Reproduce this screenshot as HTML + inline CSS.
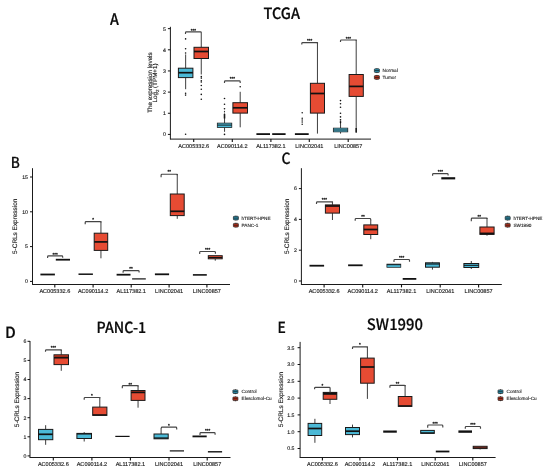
<!DOCTYPE html>
<html lang="en">
<head>
<meta charset="utf-8">
<title>Figure</title>
<style>
html,body{margin:0;padding:0;background:#fff;}
body{width:550px;height:473px;overflow:hidden;}
svg{display:block;}
.t{font-family:"Liberation Sans",Arial,Helvetica,sans-serif;text-rendering:geometricPrecision;stroke:#1a1a1a;stroke-width:0.13px;}
.s{stroke-width:0.3px;}
.l{stroke-width:0.12px;stroke:#222;}
.h{font-family:"Noto Sans CJK SC","Liberation Sans",sans-serif;text-rendering:geometricPrecision;stroke:#0a0a0a;stroke-width:0.2px;}
</style>
</head>
<body>
<svg width="550" height="473" viewBox="0 0 550 473">
<rect x="0" y="0" width="550" height="473" fill="#ffffff"/>
<text class="h" transform="translate(109.9 24.6) scale(0.9 1)" font-size="15.8" text-anchor="start" font-weight="500" fill="#0a0a0a">A</text>
<text class="h" transform="translate(10.7 167.9) scale(0.9 1)" font-size="15.1" text-anchor="start" font-weight="500" fill="#0a0a0a">B</text>
<text class="h" transform="translate(281.5 163.7) scale(0.9 1)" font-size="15.4" text-anchor="start" font-weight="500" fill="#0a0a0a">C</text>
<text class="h" transform="translate(4.9 338) scale(1.0 1)" font-size="15.4" text-anchor="start" font-weight="500" fill="#0a0a0a">D</text>
<text class="h" transform="translate(277.6 332.8) scale(0.9 1)" font-size="15.4" text-anchor="start" font-weight="500" fill="#0a0a0a">E</text>
<text class="h" transform="translate(281.7 18.5) scale(0.93 1)" font-size="15.6" text-anchor="middle" font-weight="500" fill="#0a0a0a">TCGA</text>
<text class="h" transform="translate(121.3 332.5) scale(0.935 1)" font-size="15.2" text-anchor="middle" font-weight="500" fill="#0a0a0a">PANC-1</text>
<text class="h" transform="translate(394.9 329.9) scale(0.945 1)" font-size="15.7" text-anchor="middle" font-weight="500" fill="#0a0a0a">SW1990</text>
<line x1="170.4" y1="26.8" x2="170.4" y2="139.4" stroke="#1a1a1a" stroke-width="1" stroke-linecap="butt"/>
<line x1="170.1" y1="139.1" x2="371" y2="139.1" stroke="#1a1a1a" stroke-width="1" stroke-linecap="butt"/>
<line x1="167.9" y1="134.4" x2="170.4" y2="134.4" stroke="#111" stroke-width="1" stroke-linecap="butt"/>
<text class="t" x="165.9" y="136.27" font-size="5.2" text-anchor="end" fill="#1a1a1a" >0</text>
<line x1="167.9" y1="113.25" x2="170.4" y2="113.25" stroke="#111" stroke-width="1" stroke-linecap="butt"/>
<text class="t" x="165.9" y="115.12" font-size="5.2" text-anchor="end" fill="#1a1a1a" >1</text>
<line x1="167.9" y1="92.1" x2="170.4" y2="92.1" stroke="#111" stroke-width="1" stroke-linecap="butt"/>
<text class="t" x="165.9" y="93.97" font-size="5.2" text-anchor="end" fill="#1a1a1a" >2</text>
<line x1="167.9" y1="70.95" x2="170.4" y2="70.95" stroke="#111" stroke-width="1" stroke-linecap="butt"/>
<text class="t" x="165.9" y="72.82" font-size="5.2" text-anchor="end" fill="#1a1a1a" >3</text>
<line x1="167.9" y1="49.8" x2="170.4" y2="49.8" stroke="#111" stroke-width="1" stroke-linecap="butt"/>
<text class="t" x="165.9" y="51.67" font-size="5.2" text-anchor="end" fill="#1a1a1a" >4</text>
<line x1="167.9" y1="28.65" x2="170.4" y2="28.65" stroke="#111" stroke-width="1" stroke-linecap="butt"/>
<text class="t" x="165.9" y="30.52" font-size="5.2" text-anchor="end" fill="#1a1a1a" >5</text>
<line x1="193.7" y1="139.1" x2="193.7" y2="142" stroke="#111" stroke-width="1.1" stroke-linecap="butt"/>
<text class="t" x="193.7" y="147.5" font-size="5.55" text-anchor="middle" fill="#1a1a1a" >AC005332.6</text>
<line x1="232.3" y1="139.1" x2="232.3" y2="142" stroke="#111" stroke-width="1.1" stroke-linecap="butt"/>
<text class="t" x="232.3" y="147.5" font-size="5.55" text-anchor="middle" fill="#1a1a1a" >AC090114.2</text>
<line x1="270.9" y1="139.1" x2="270.9" y2="142" stroke="#111" stroke-width="1.1" stroke-linecap="butt"/>
<text class="t" x="270.9" y="147.5" font-size="5.55" text-anchor="middle" fill="#1a1a1a" >AL117382.1</text>
<line x1="309.3" y1="139.1" x2="309.3" y2="142" stroke="#111" stroke-width="1.1" stroke-linecap="butt"/>
<text class="t" x="309.3" y="147.5" font-size="5.55" text-anchor="middle" fill="#1a1a1a" >LINC02041</text>
<line x1="348.2" y1="139.1" x2="348.2" y2="142" stroke="#111" stroke-width="1.1" stroke-linecap="butt"/>
<text class="t" x="348.2" y="147.5" font-size="5.55" text-anchor="middle" fill="#1a1a1a" >LINC00857</text>
<text class="t" transform="translate(151.9 82.6) rotate(-90)" font-size="6.25" text-anchor="middle" fill="#1a1a1a" >The expression levels</text>
<text class="t" transform="translate(157.4 83.0) rotate(-90)" font-size="6.25" text-anchor="middle" fill="#1a1a1a">Log<tspan font-size="4.4" dy="1.2">2</tspan><tspan dy="-1.2"> (TPM+1)</tspan></text>
<line x1="185.65" y1="54.4" x2="185.65" y2="68.2" stroke="#333" stroke-width="0.95" stroke-linecap="butt"/>
<line x1="185.65" y1="77.6" x2="185.65" y2="89.2" stroke="#333" stroke-width="0.95" stroke-linecap="butt"/>
<rect x="178.4" y="68.2" width="14.5" height="9.4" fill="#4bb9d6" stroke="#1a1a1a" stroke-width="1"/>
<line x1="178.4" y1="72.7" x2="192.9" y2="72.7" stroke="#111" stroke-width="1.7" stroke-linecap="butt"/>
<circle cx="185.6" cy="38.9" r="0.8" fill="#111"/>
<circle cx="185.6" cy="48.8" r="0.8" fill="#111"/>
<circle cx="185.6" cy="53" r="0.8" fill="#111"/>
<circle cx="185.6" cy="93.3" r="0.8" fill="#111"/>
<circle cx="185.6" cy="95.1" r="0.8" fill="#111"/>
<circle cx="185.6" cy="134.3" r="0.8" fill="#111"/>
<line x1="201.25" y1="33.6" x2="201.25" y2="47.3" stroke="#333" stroke-width="0.95" stroke-linecap="butt"/>
<line x1="201.25" y1="58.5" x2="201.25" y2="74.5" stroke="#333" stroke-width="0.95" stroke-linecap="butt"/>
<rect x="194" y="47.3" width="14.5" height="11.2" fill="#e64b33" stroke="#1a1a1a" stroke-width="1"/>
<line x1="194" y1="51.5" x2="208.5" y2="51.5" stroke="#111" stroke-width="1.7" stroke-linecap="butt"/>
<circle cx="201.3" cy="76.6" r="0.8" fill="#111"/>
<circle cx="201.3" cy="78.1" r="0.8" fill="#111"/>
<circle cx="201.3" cy="80.7" r="0.8" fill="#111"/>
<circle cx="201.3" cy="82" r="0.8" fill="#111"/>
<circle cx="201.3" cy="85.5" r="0.8" fill="#111"/>
<circle cx="201.3" cy="89.2" r="0.8" fill="#111"/>
<circle cx="201.3" cy="94.4" r="0.8" fill="#111"/>
<circle cx="201.3" cy="99.3" r="0.8" fill="#111"/>
<path d="M185.5 33.95V32.75Q185.5 31.85 186.4 31.85H200.4Q201.3 31.85 201.3 32.75V33.8" fill="none" stroke="#444" stroke-width="1.15"/>
<text class="t s" x="193.4" y="31.5" font-size="4.5" text-anchor="middle" fill="#1a1a1a" >***</text>
<line x1="224.55" y1="116.5" x2="224.55" y2="123.1" stroke="#333" stroke-width="0.95" stroke-linecap="butt"/>
<line x1="224.55" y1="127.6" x2="224.55" y2="131.8" stroke="#333" stroke-width="0.95" stroke-linecap="butt"/>
<rect x="217.3" y="123.1" width="14.5" height="4.5" fill="#4bb9d6" stroke="#1a1a1a" stroke-width="0.75"/>
<line x1="217.3" y1="125.1" x2="231.8" y2="125.1" stroke="#111" stroke-width="0.9" stroke-linecap="butt"/>
<circle cx="224.5" cy="98.5" r="0.8" fill="#111"/>
<circle cx="224.5" cy="104.3" r="0.8" fill="#111"/>
<circle cx="224.5" cy="108.7" r="0.8" fill="#111"/>
<circle cx="224.5" cy="134.4" r="0.8" fill="#111"/>
<circle cx="224.5" cy="111.3" r="0.6" fill="#111"/>
<circle cx="224.5" cy="113" r="0.6" fill="#111"/>
<line x1="224.5" y1="114" x2="224.5" y2="118.5" stroke="#1a1a1a" stroke-width="1.6" stroke-linecap="butt"/>
<line x1="240.2" y1="91.8" x2="240.2" y2="102.7" stroke="#333" stroke-width="0.95" stroke-linecap="butt"/>
<line x1="240.2" y1="113.1" x2="240.2" y2="127.3" stroke="#333" stroke-width="0.95" stroke-linecap="butt"/>
<rect x="232.9" y="102.7" width="14.6" height="10.4" fill="#e64b33" stroke="#1a1a1a" stroke-width="1"/>
<line x1="232.9" y1="107.8" x2="247.5" y2="107.8" stroke="#111" stroke-width="1.7" stroke-linecap="butt"/>
<circle cx="240.2" cy="86.7" r="0.8" fill="#111"/>
<path d="M224.5 83.05V81.75Q224.5 80.85 225.4 80.85H239.3Q240.2 80.85 240.2 81.75V82.9" fill="none" stroke="#444" stroke-width="1.15"/>
<text class="t s" x="232.35" y="80.3" font-size="4.5" text-anchor="middle" fill="#1a1a1a" >***</text>
<line x1="256.4" y1="134.1" x2="270" y2="134.1" stroke="#111" stroke-width="1.8" stroke-linecap="butt"/>
<line x1="272.2" y1="134.1" x2="285.6" y2="134.1" stroke="#111" stroke-width="1.8" stroke-linecap="butt"/>
<line x1="294.9" y1="134.1" x2="308.7" y2="134.1" stroke="#111" stroke-width="1.8" stroke-linecap="butt"/>
<circle cx="302.2" cy="112.8" r="0.75" fill="#111"/>
<circle cx="302.2" cy="118.3" r="0.75" fill="#111"/>
<circle cx="302.2" cy="120.1" r="0.75" fill="#111"/>
<circle cx="302.2" cy="122" r="0.75" fill="#111"/>
<circle cx="302.2" cy="124.2" r="0.75" fill="#111"/>
<line x1="317.45" y1="42.2" x2="317.45" y2="83.3" stroke="#333" stroke-width="0.95" stroke-linecap="butt"/>
<line x1="317.45" y1="113.1" x2="317.45" y2="133.6" stroke="#333" stroke-width="0.95" stroke-linecap="butt"/>
<rect x="310.4" y="83.3" width="14.1" height="29.8" fill="#e64b33" stroke="#1a1a1a" stroke-width="1"/>
<line x1="310.4" y1="93.5" x2="324.5" y2="93.5" stroke="#111" stroke-width="1.7" stroke-linecap="butt"/>
<path d="M301.8 44.55V43.45Q301.8 42.55 302.7 42.55H316.6Q317.5 42.55 317.5 43.45V42.4" fill="none" stroke="#444" stroke-width="1.15"/>
<text class="t s" x="309.65" y="42.1" font-size="4.5" text-anchor="middle" fill="#1a1a1a" >***</text>
<line x1="340.55" y1="123" x2="340.55" y2="128.1" stroke="#333" stroke-width="0.95" stroke-linecap="butt"/>
<line x1="340.55" y1="131.9" x2="340.55" y2="133.6" stroke="#333" stroke-width="0.95" stroke-linecap="butt"/>
<rect x="333.3" y="128.1" width="14.5" height="3.8" fill="#4bb9d6" stroke="#1a1a1a" stroke-width="0.7"/>
<line x1="333.3" y1="130" x2="347.8" y2="130" stroke="#111" stroke-width="0.8" stroke-linecap="butt"/>
<circle cx="340.5" cy="100.6" r="0.8" fill="#111"/>
<circle cx="340.5" cy="103.8" r="0.8" fill="#111"/>
<circle cx="340.5" cy="107.2" r="0.8" fill="#111"/>
<circle cx="340.5" cy="113.3" r="0.8" fill="#111"/>
<circle cx="340.5" cy="116.9" r="0.8" fill="#111"/>
<circle cx="340.5" cy="119.8" r="0.8" fill="#111"/>
<circle cx="340.5" cy="121.2" r="0.8" fill="#111"/>
<circle cx="340.5" cy="122.6" r="0.8" fill="#111"/>
<line x1="356.2" y1="39.6" x2="356.2" y2="74.5" stroke="#333" stroke-width="0.95" stroke-linecap="butt"/>
<line x1="356.2" y1="96.4" x2="356.2" y2="132.7" stroke="#333" stroke-width="0.95" stroke-linecap="butt"/>
<rect x="349.1" y="74.5" width="14.2" height="21.9" fill="#e64b33" stroke="#1a1a1a" stroke-width="1"/>
<line x1="349.1" y1="86.4" x2="363.3" y2="86.4" stroke="#111" stroke-width="1.7" stroke-linecap="butt"/>
<line x1="356.2" y1="128" x2="356.2" y2="132.6" stroke="#1a1a1a" stroke-width="1.5" stroke-linecap="butt"/>
<path d="M340.5 41.95V40.85Q340.5 39.95 341.4 39.95H355.3Q356.2 39.95 356.2 40.85V39.8" fill="none" stroke="#444" stroke-width="1.15"/>
<text class="t s" x="348.35" y="39.7" font-size="4.5" text-anchor="middle" fill="#1a1a1a" >***</text>
<line x1="376.9" y1="68.1" x2="376.9" y2="73.1" stroke="#333" stroke-width="0.8" stroke-linecap="butt"/>
<rect x="374.4" y="68.8" width="5" height="3.6" rx="0.7" fill="#3093b0" stroke="#1c1c1c" stroke-width="0.7"/>
<line x1="374.8" y1="70.6" x2="379" y2="70.6" stroke="#12323b" stroke-width="0.9" stroke-linecap="butt"/>
<text class="t l" x="382.6" y="72.29" font-size="4.7" text-anchor="start" fill="#222" >Normal</text>
<line x1="376.9" y1="74.9" x2="376.9" y2="79.9" stroke="#333" stroke-width="0.8" stroke-linecap="butt"/>
<rect x="374.4" y="75.6" width="5" height="3.6" rx="0.7" fill="#bd3822" stroke="#1c1c1c" stroke-width="0.7"/>
<line x1="374.8" y1="77.4" x2="379" y2="77.4" stroke="#43130c" stroke-width="0.9" stroke-linecap="butt"/>
<text class="t l" x="382.6" y="79.09" font-size="4.7" text-anchor="start" fill="#222" >Tumor</text>
<line x1="32.5" y1="168.2" x2="32.5" y2="284.8" stroke="#1a1a1a" stroke-width="1" stroke-linecap="butt"/>
<line x1="32.2" y1="284.5" x2="230" y2="284.5" stroke="#1a1a1a" stroke-width="1" stroke-linecap="butt"/>
<line x1="30" y1="281.4" x2="32.5" y2="281.4" stroke="#111" stroke-width="1" stroke-linecap="butt"/>
<text class="t" x="28" y="283.27" font-size="5.2" text-anchor="end" fill="#1a1a1a" >0</text>
<line x1="30" y1="246.6" x2="32.5" y2="246.6" stroke="#111" stroke-width="1" stroke-linecap="butt"/>
<text class="t" x="28" y="248.47" font-size="5.2" text-anchor="end" fill="#1a1a1a" >5</text>
<line x1="30" y1="211.8" x2="32.5" y2="211.8" stroke="#111" stroke-width="1" stroke-linecap="butt"/>
<text class="t" x="28" y="213.67" font-size="5.2" text-anchor="end" fill="#1a1a1a" >10</text>
<line x1="30" y1="177" x2="32.5" y2="177" stroke="#111" stroke-width="1" stroke-linecap="butt"/>
<text class="t" x="28" y="178.87" font-size="5.2" text-anchor="end" fill="#1a1a1a" >15</text>
<line x1="54.8" y1="284.5" x2="54.8" y2="287.4" stroke="#111" stroke-width="1.1" stroke-linecap="butt"/>
<text class="t" x="54.8" y="293.4" font-size="5.55" text-anchor="middle" fill="#1a1a1a" >AC005332.6</text>
<line x1="93.1" y1="284.5" x2="93.1" y2="287.4" stroke="#111" stroke-width="1.1" stroke-linecap="butt"/>
<text class="t" x="93.1" y="293.4" font-size="5.55" text-anchor="middle" fill="#1a1a1a" >AC090114.2</text>
<line x1="131.2" y1="284.5" x2="131.2" y2="287.4" stroke="#111" stroke-width="1.1" stroke-linecap="butt"/>
<text class="t" x="131.2" y="293.4" font-size="5.55" text-anchor="middle" fill="#1a1a1a" >AL117382.1</text>
<line x1="169.1" y1="284.5" x2="169.1" y2="287.4" stroke="#111" stroke-width="1.1" stroke-linecap="butt"/>
<text class="t" x="169.1" y="293.4" font-size="5.55" text-anchor="middle" fill="#1a1a1a" >LINC02041</text>
<line x1="206.9" y1="284.5" x2="206.9" y2="287.4" stroke="#111" stroke-width="1.1" stroke-linecap="butt"/>
<text class="t" x="206.9" y="293.4" font-size="5.55" text-anchor="middle" fill="#1a1a1a" >LINC00857</text>
<text class="t" transform="translate(17 226.3) rotate(-90)" font-size="6.43" text-anchor="middle" fill="#1a1a1a" >5-CRLs Expression</text>
<line x1="40.4" y1="274.5" x2="54.9" y2="274.5" stroke="#111" stroke-width="1.8" stroke-linecap="butt"/>
<line x1="55.8" y1="259.7" x2="70" y2="259.7" stroke="#111" stroke-width="1.8" stroke-linecap="butt"/>
<path d="M47.6 257.95V256.75Q47.6 255.85 48.5 255.85H61.8Q62.7 255.85 62.7 256.75V257.8" fill="none" stroke="#444" stroke-width="1.15"/>
<text class="t s" x="55.15" y="255.6" font-size="4.5" text-anchor="middle" fill="#1a1a1a" >***</text>
<line x1="78.5" y1="274.2" x2="92.9" y2="274.2" stroke="#111" stroke-width="1.5" stroke-linecap="butt"/>
<line x1="100.95" y1="221.3" x2="100.95" y2="233.2" stroke="#333" stroke-width="0.95" stroke-linecap="butt"/>
<line x1="100.95" y1="250.4" x2="100.95" y2="258.3" stroke="#333" stroke-width="0.95" stroke-linecap="butt"/>
<rect x="94.2" y="233.2" width="13.5" height="17.2" fill="#e64b33" stroke="#1a1a1a" stroke-width="1"/>
<line x1="94.2" y1="241.9" x2="107.7" y2="241.9" stroke="#111" stroke-width="1.7" stroke-linecap="butt"/>
<path d="M85.2 224.35V222.55Q85.2 221.65 86.1 221.65H100.05Q100.95 221.65 100.95 222.55V221.5" fill="none" stroke="#444" stroke-width="1.15"/>
<text class="t s" x="93.08" y="221.1" font-size="4.5" text-anchor="middle" fill="#1a1a1a" >*</text>
<line x1="116.6" y1="274.7" x2="130.5" y2="274.7" stroke="#111" stroke-width="1.8" stroke-linecap="butt"/>
<line x1="132.1" y1="278.9" x2="145.8" y2="278.9" stroke="#111" stroke-width="1.2" stroke-linecap="butt"/>
<path d="M123.1 272.75V271.45Q123.1 270.55 124 270.55H138.2Q139.1 270.55 139.1 271.45V272.6" fill="none" stroke="#444" stroke-width="1.15"/>
<text class="t s" x="131.1" y="269.5" font-size="4.5" text-anchor="middle" fill="#1a1a1a" >**</text>
<line x1="154.9" y1="274.3" x2="169.1" y2="274.3" stroke="#111" stroke-width="1.8" stroke-linecap="butt"/>
<line x1="177.25" y1="173.9" x2="177.25" y2="194" stroke="#333" stroke-width="0.95" stroke-linecap="butt"/>
<line x1="177.25" y1="215.6" x2="177.25" y2="218.8" stroke="#333" stroke-width="0.95" stroke-linecap="butt"/>
<rect x="170.3" y="194" width="13.9" height="21.6" fill="#e64b33" stroke="#1a1a1a" stroke-width="1"/>
<line x1="170.3" y1="211.3" x2="184.2" y2="211.3" stroke="#111" stroke-width="1.7" stroke-linecap="butt"/>
<path d="M161.1 177.35V175.15Q161.1 174.25 162 174.25H176.35Q177.25 174.25 177.25 175.15V174.1" fill="none" stroke="#444" stroke-width="1.15"/>
<text class="t s" x="169.18" y="173" font-size="4.5" text-anchor="middle" fill="#1a1a1a" >**</text>
<line x1="192.9" y1="274.9" x2="206.8" y2="274.9" stroke="#111" stroke-width="1.6" stroke-linecap="butt"/>
<line x1="215.25" y1="258.8" x2="215.25" y2="260.7" stroke="#333" stroke-width="0.95" stroke-linecap="butt"/>
<rect x="208.3" y="255.7" width="13.9" height="3.1" fill="#e64b33" stroke="#1a1a1a" stroke-width="1"/>
<line x1="208.3" y1="257.5" x2="222.2" y2="257.5" stroke="#111" stroke-width="1" stroke-linecap="butt"/>
<path d="M199.7 253.95V252.35Q199.7 251.45 200.6 251.45H214.5Q215.4 251.45 215.4 252.35V253.8" fill="none" stroke="#444" stroke-width="1.15"/>
<text class="t s" x="207.55" y="250.8" font-size="4.5" text-anchor="middle" fill="#1a1a1a" >***</text>
<line x1="235.9" y1="215.6" x2="235.9" y2="220.6" stroke="#333" stroke-width="0.8" stroke-linecap="butt"/>
<rect x="233.4" y="216.3" width="5" height="3.6" rx="0.7" fill="#3093b0" stroke="#1c1c1c" stroke-width="0.7"/>
<line x1="233.8" y1="218.1" x2="238" y2="218.1" stroke="#12323b" stroke-width="0.9" stroke-linecap="butt"/>
<text class="t l" x="241.5" y="219.79" font-size="4.7" text-anchor="start" fill="#222" >hTERT-HPNE</text>
<line x1="235.9" y1="222.7" x2="235.9" y2="227.7" stroke="#333" stroke-width="0.8" stroke-linecap="butt"/>
<rect x="233.4" y="223.4" width="5" height="3.6" rx="0.7" fill="#bd3822" stroke="#1c1c1c" stroke-width="0.7"/>
<line x1="233.8" y1="225.2" x2="238" y2="225.2" stroke="#43130c" stroke-width="0.9" stroke-linecap="butt"/>
<text class="t l" x="241.5" y="226.89" font-size="4.7" text-anchor="start" fill="#222" >PANC-1</text>
<line x1="301.4" y1="168.2" x2="301.4" y2="284.8" stroke="#1a1a1a" stroke-width="1" stroke-linecap="butt"/>
<line x1="301.1" y1="284.5" x2="501.8" y2="284.5" stroke="#1a1a1a" stroke-width="1" stroke-linecap="butt"/>
<line x1="298.9" y1="281" x2="301.4" y2="281" stroke="#111" stroke-width="1" stroke-linecap="butt"/>
<text class="t" x="296.9" y="282.87" font-size="5.2" text-anchor="end" fill="#1a1a1a" >0</text>
<line x1="298.9" y1="250.2" x2="301.4" y2="250.2" stroke="#111" stroke-width="1" stroke-linecap="butt"/>
<text class="t" x="296.9" y="252.07" font-size="5.2" text-anchor="end" fill="#1a1a1a" >2</text>
<line x1="298.9" y1="219.4" x2="301.4" y2="219.4" stroke="#111" stroke-width="1" stroke-linecap="butt"/>
<text class="t" x="296.9" y="221.27" font-size="5.2" text-anchor="end" fill="#1a1a1a" >4</text>
<line x1="298.9" y1="188.6" x2="301.4" y2="188.6" stroke="#111" stroke-width="1" stroke-linecap="butt"/>
<text class="t" x="296.9" y="190.47" font-size="5.2" text-anchor="end" fill="#1a1a1a" >6</text>
<line x1="324.1" y1="284.5" x2="324.1" y2="287.4" stroke="#111" stroke-width="1.1" stroke-linecap="butt"/>
<text class="t" x="324.1" y="293.4" font-size="5.55" text-anchor="middle" fill="#1a1a1a" >AC005332.6</text>
<line x1="362.7" y1="284.5" x2="362.7" y2="287.4" stroke="#111" stroke-width="1.1" stroke-linecap="butt"/>
<text class="t" x="362.7" y="293.4" font-size="5.55" text-anchor="middle" fill="#1a1a1a" >AC090114.2</text>
<line x1="401.5" y1="284.5" x2="401.5" y2="287.4" stroke="#111" stroke-width="1.1" stroke-linecap="butt"/>
<text class="t" x="401.5" y="293.4" font-size="5.55" text-anchor="middle" fill="#1a1a1a" >AL117382.1</text>
<line x1="440.2" y1="284.5" x2="440.2" y2="287.4" stroke="#111" stroke-width="1.1" stroke-linecap="butt"/>
<text class="t" x="440.2" y="293.4" font-size="5.55" text-anchor="middle" fill="#1a1a1a" >LINC02041</text>
<line x1="478.6" y1="284.5" x2="478.6" y2="287.4" stroke="#111" stroke-width="1.1" stroke-linecap="butt"/>
<text class="t" x="478.6" y="293.4" font-size="5.55" text-anchor="middle" fill="#1a1a1a" >LINC00857</text>
<text class="t" transform="translate(289.2 226.3) rotate(-90)" font-size="6.43" text-anchor="middle" fill="#1a1a1a" >5-CRLs Expression</text>
<line x1="309.5" y1="265.7" x2="324.1" y2="265.7" stroke="#111" stroke-width="1.8" stroke-linecap="butt"/>
<line x1="332.45" y1="201.5" x2="332.45" y2="204.9" stroke="#333" stroke-width="0.95" stroke-linecap="butt"/>
<line x1="332.45" y1="213.1" x2="332.45" y2="220" stroke="#333" stroke-width="0.95" stroke-linecap="butt"/>
<rect x="325.4" y="204.9" width="14.1" height="8.2" fill="#e64b33" stroke="#1a1a1a" stroke-width="1"/>
<line x1="325.4" y1="206" x2="339.5" y2="206" stroke="#111" stroke-width="1.7" stroke-linecap="butt"/>
<path d="M316.5 203.95V202.75Q316.5 201.85 317.4 201.85H331.55Q332.45 201.85 332.45 202.75V201.7" fill="none" stroke="#444" stroke-width="1.15"/>
<text class="t s" x="324.48" y="201.3" font-size="4.5" text-anchor="middle" fill="#1a1a1a" >***</text>
<line x1="348.1" y1="265.3" x2="362.6" y2="265.3" stroke="#111" stroke-width="1.8" stroke-linecap="butt"/>
<line x1="370.75" y1="220.2" x2="370.75" y2="224.9" stroke="#333" stroke-width="0.95" stroke-linecap="butt"/>
<line x1="370.75" y1="234.5" x2="370.75" y2="239.2" stroke="#333" stroke-width="0.95" stroke-linecap="butt"/>
<rect x="363.8" y="224.9" width="13.9" height="9.6" fill="#e64b33" stroke="#1a1a1a" stroke-width="1"/>
<line x1="363.8" y1="229.5" x2="377.7" y2="229.5" stroke="#111" stroke-width="1.7" stroke-linecap="butt"/>
<path d="M355.2 220.65V219.35Q355.2 218.45 356.1 218.45H369.8Q370.7 218.45 370.7 219.35V220.5" fill="none" stroke="#444" stroke-width="1.15"/>
<text class="t s" x="362.95" y="217.9" font-size="4.5" text-anchor="middle" fill="#1a1a1a" >**</text>
<rect x="386.9" y="264.1" width="13.9" height="3.2" fill="#4bb9d6" stroke="#1a1a1a" stroke-width="0.7"/>
<line x1="386.9" y1="264.7" x2="400.8" y2="264.7" stroke="#111" stroke-width="0.9" stroke-linecap="butt"/>
<line x1="402.7" y1="278.9" x2="416.3" y2="278.9" stroke="#111" stroke-width="1.8" stroke-linecap="butt"/>
<path d="M394 261.95V260.35Q394 259.45 394.9 259.45H408.6Q409.5 259.45 409.5 260.35V261.8" fill="none" stroke="#444" stroke-width="1.15"/>
<text class="t s" x="401.75" y="258.9" font-size="4.5" text-anchor="middle" fill="#1a1a1a" >***</text>
<line x1="432.45" y1="261.9" x2="432.45" y2="262.8" stroke="#333" stroke-width="0.95" stroke-linecap="butt"/>
<line x1="432.45" y1="267.2" x2="432.45" y2="269.6" stroke="#333" stroke-width="0.95" stroke-linecap="butt"/>
<rect x="425.5" y="262.8" width="13.9" height="4.4" fill="#4bb9d6" stroke="#1a1a1a" stroke-width="1"/>
<line x1="425.5" y1="264" x2="439.4" y2="264" stroke="#111" stroke-width="1.1" stroke-linecap="butt"/>
<line x1="441.3" y1="178.3" x2="455.2" y2="178.3" stroke="#111" stroke-width="2.2" stroke-linecap="butt"/>
<path d="M432.6 175.75V174.55Q432.6 173.65 433.5 173.65H447.2Q448.1 173.65 448.1 174.55V175.6" fill="none" stroke="#444" stroke-width="1.15"/>
<text class="t s" x="440.35" y="173" font-size="4.5" text-anchor="middle" fill="#1a1a1a" >***</text>
<line x1="471.3" y1="261" x2="471.3" y2="263.5" stroke="#333" stroke-width="0.95" stroke-linecap="butt"/>
<line x1="471.3" y1="267.5" x2="471.3" y2="269" stroke="#333" stroke-width="0.95" stroke-linecap="butt"/>
<rect x="463.9" y="263.5" width="14.8" height="4" fill="#4bb9d6" stroke="#1a1a1a" stroke-width="1"/>
<line x1="463.9" y1="265.3" x2="478.7" y2="265.3" stroke="#111" stroke-width="1" stroke-linecap="butt"/>
<line x1="487" y1="217.8" x2="487" y2="227" stroke="#333" stroke-width="0.95" stroke-linecap="butt"/>
<line x1="487" y1="234.4" x2="487" y2="235.7" stroke="#333" stroke-width="0.95" stroke-linecap="butt"/>
<rect x="479.9" y="227" width="14.2" height="7.4" fill="#e64b33" stroke="#1a1a1a" stroke-width="1"/>
<line x1="479.9" y1="233.4" x2="494.1" y2="233.4" stroke="#111" stroke-width="1.7" stroke-linecap="butt"/>
<path d="M471.3 221.15V219.05Q471.3 218.15 472.2 218.15H486.1Q487 218.15 487 219.05V218" fill="none" stroke="#444" stroke-width="1.15"/>
<text class="t s" x="479.15" y="217.8" font-size="4.5" text-anchor="middle" fill="#1a1a1a" >**</text>
<line x1="507.7" y1="215.6" x2="507.7" y2="220.6" stroke="#333" stroke-width="0.8" stroke-linecap="butt"/>
<rect x="505.2" y="216.3" width="5" height="3.6" rx="0.7" fill="#3093b0" stroke="#1c1c1c" stroke-width="0.7"/>
<line x1="505.6" y1="218.1" x2="509.8" y2="218.1" stroke="#12323b" stroke-width="0.9" stroke-linecap="butt"/>
<text class="t l" x="513.4" y="219.79" font-size="4.7" text-anchor="start" fill="#222" >hTERT-HPNE</text>
<line x1="507.7" y1="222.7" x2="507.7" y2="227.7" stroke="#333" stroke-width="0.8" stroke-linecap="butt"/>
<rect x="505.2" y="223.4" width="5" height="3.6" rx="0.7" fill="#bd3822" stroke="#1c1c1c" stroke-width="0.7"/>
<line x1="505.6" y1="225.2" x2="509.8" y2="225.2" stroke="#43130c" stroke-width="0.9" stroke-linecap="butt"/>
<text class="t l" x="513.4" y="226.89" font-size="4.7" text-anchor="start" fill="#222" >SW1990</text>
<line x1="30" y1="341" x2="30" y2="457.8" stroke="#1a1a1a" stroke-width="1" stroke-linecap="butt"/>
<line x1="29.7" y1="457.5" x2="230.5" y2="457.5" stroke="#1a1a1a" stroke-width="1" stroke-linecap="butt"/>
<line x1="27.5" y1="455.9" x2="30" y2="455.9" stroke="#111" stroke-width="1" stroke-linecap="butt"/>
<text class="t" x="26.3" y="457.77" font-size="5.2" text-anchor="end" fill="#1a1a1a" >0</text>
<line x1="27.5" y1="436.8" x2="30" y2="436.8" stroke="#111" stroke-width="1" stroke-linecap="butt"/>
<text class="t" x="26.3" y="438.67" font-size="5.2" text-anchor="end" fill="#1a1a1a" >1</text>
<line x1="27.5" y1="417.7" x2="30" y2="417.7" stroke="#111" stroke-width="1" stroke-linecap="butt"/>
<text class="t" x="26.3" y="419.57" font-size="5.2" text-anchor="end" fill="#1a1a1a" >2</text>
<line x1="27.5" y1="398.6" x2="30" y2="398.6" stroke="#111" stroke-width="1" stroke-linecap="butt"/>
<text class="t" x="26.3" y="400.47" font-size="5.2" text-anchor="end" fill="#1a1a1a" >3</text>
<line x1="27.5" y1="379.5" x2="30" y2="379.5" stroke="#111" stroke-width="1" stroke-linecap="butt"/>
<text class="t" x="26.3" y="381.37" font-size="5.2" text-anchor="end" fill="#1a1a1a" >4</text>
<line x1="27.5" y1="360.4" x2="30" y2="360.4" stroke="#111" stroke-width="1" stroke-linecap="butt"/>
<text class="t" x="26.3" y="362.27" font-size="5.2" text-anchor="end" fill="#1a1a1a" >5</text>
<line x1="27.5" y1="341.3" x2="30" y2="341.3" stroke="#111" stroke-width="1" stroke-linecap="butt"/>
<text class="t" x="26.3" y="343.17" font-size="5.2" text-anchor="end" fill="#1a1a1a" >6</text>
<line x1="53.3" y1="457.5" x2="53.3" y2="460.4" stroke="#111" stroke-width="1.1" stroke-linecap="butt"/>
<text class="t" x="53.3" y="466.1" font-size="5.55" text-anchor="middle" fill="#1a1a1a" >AC005332.6</text>
<line x1="91.9" y1="457.5" x2="91.9" y2="460.4" stroke="#111" stroke-width="1.1" stroke-linecap="butt"/>
<text class="t" x="91.9" y="466.1" font-size="5.55" text-anchor="middle" fill="#1a1a1a" >AC090114.2</text>
<line x1="130.4" y1="457.5" x2="130.4" y2="460.4" stroke="#111" stroke-width="1.1" stroke-linecap="butt"/>
<text class="t" x="130.4" y="466.1" font-size="5.55" text-anchor="middle" fill="#1a1a1a" >AL117382.1</text>
<line x1="169" y1="457.5" x2="169" y2="460.4" stroke="#111" stroke-width="1.1" stroke-linecap="butt"/>
<text class="t" x="169" y="466.1" font-size="5.55" text-anchor="middle" fill="#1a1a1a" >LINC02041</text>
<line x1="207.2" y1="457.5" x2="207.2" y2="460.4" stroke="#111" stroke-width="1.1" stroke-linecap="butt"/>
<text class="t" x="207.2" y="466.1" font-size="5.55" text-anchor="middle" fill="#1a1a1a" >LINC00857</text>
<text class="t" transform="translate(19.2 399.5) rotate(-90)" font-size="6.43" text-anchor="middle" fill="#1a1a1a" >5-CRLs Expression</text>
<line x1="45.65" y1="425.2" x2="45.65" y2="429.4" stroke="#333" stroke-width="0.95" stroke-linecap="butt"/>
<line x1="45.65" y1="439.7" x2="45.65" y2="444.8" stroke="#333" stroke-width="0.95" stroke-linecap="butt"/>
<rect x="38.5" y="429.4" width="14.3" height="10.3" fill="#4bb9d6" stroke="#1a1a1a" stroke-width="1"/>
<line x1="38.5" y1="434.3" x2="52.8" y2="434.3" stroke="#111" stroke-width="1.7" stroke-linecap="butt"/>
<line x1="61.25" y1="349.5" x2="61.25" y2="354.8" stroke="#333" stroke-width="0.95" stroke-linecap="butt"/>
<line x1="61.25" y1="364.6" x2="61.25" y2="370.8" stroke="#333" stroke-width="0.95" stroke-linecap="butt"/>
<rect x="54" y="354.8" width="14.5" height="9.8" fill="#e64b33" stroke="#1a1a1a" stroke-width="1"/>
<rect x="54.5" y="355.3" width="13.5" height="2.5" fill="#9c2c1b"/>
<line x1="54" y1="357.8" x2="68.5" y2="357.8" stroke="#111" stroke-width="1.5" stroke-linecap="butt"/>
<path d="M45.5 351.75V350.75Q45.5 349.85 46.4 349.85H60.35Q61.25 349.85 61.25 350.75V349.7" fill="none" stroke="#444" stroke-width="1.15"/>
<text class="t s" x="53.38" y="349.4" font-size="4.5" text-anchor="middle" fill="#1a1a1a" >***</text>
<line x1="84.2" y1="432.1" x2="84.2" y2="433.4" stroke="#333" stroke-width="0.95" stroke-linecap="butt"/>
<line x1="84.2" y1="438.5" x2="84.2" y2="441.5" stroke="#333" stroke-width="0.95" stroke-linecap="butt"/>
<rect x="76.9" y="433.4" width="14.6" height="5.1" fill="#4bb9d6" stroke="#1a1a1a" stroke-width="1"/>
<line x1="76.9" y1="434" x2="91.5" y2="434" stroke="#111" stroke-width="1.1" stroke-linecap="butt"/>
<line x1="99.8" y1="397.1" x2="99.8" y2="407.1" stroke="#333" stroke-width="0.95" stroke-linecap="butt"/>
<rect x="92.7" y="407.1" width="14.2" height="8.3" fill="#e64b33" stroke="#1a1a1a" stroke-width="1"/>
<line x1="92.7" y1="414.8" x2="106.9" y2="414.8" stroke="#111" stroke-width="1.2" stroke-linecap="butt"/>
<path d="M84.2 399.85V398.35Q84.2 397.45 85.1 397.45H98.9Q99.8 397.45 99.8 398.35V397.3" fill="none" stroke="#444" stroke-width="1.15"/>
<text class="t s" x="92" y="396.7" font-size="4.5" text-anchor="middle" fill="#1a1a1a" >*</text>
<line x1="115.3" y1="436.4" x2="129.6" y2="436.4" stroke="#111" stroke-width="1.2" stroke-linecap="butt"/>
<line x1="138.05" y1="385.3" x2="138.05" y2="390.5" stroke="#333" stroke-width="0.95" stroke-linecap="butt"/>
<line x1="138.05" y1="400.4" x2="138.05" y2="407.7" stroke="#333" stroke-width="0.95" stroke-linecap="butt"/>
<rect x="131.1" y="390.5" width="13.9" height="9.9" fill="#e64b33" stroke="#1a1a1a" stroke-width="1"/>
<rect x="131.6" y="391" width="12.9" height="1.5" fill="#9c2c1b"/>
<line x1="131.1" y1="392.5" x2="145" y2="392.5" stroke="#111" stroke-width="1.5" stroke-linecap="butt"/>
<path d="M122.3 388.35V386.55Q122.3 385.65 123.2 385.65H137.15Q138.05 385.65 138.05 386.55V385.5" fill="none" stroke="#444" stroke-width="1.15"/>
<text class="t s" x="130.18" y="385.6" font-size="4.5" text-anchor="middle" fill="#1a1a1a" >**</text>
<line x1="161.1" y1="428.2" x2="161.1" y2="434" stroke="#333" stroke-width="0.95" stroke-linecap="butt"/>
<rect x="154" y="434" width="14.2" height="4.8" fill="#4bb9d6" stroke="#1a1a1a" stroke-width="1"/>
<line x1="154" y1="438" x2="168.2" y2="438" stroke="#111" stroke-width="1.2" stroke-linecap="butt"/>
<line x1="169.8" y1="450.9" x2="184" y2="450.9" stroke="#111" stroke-width="1.2" stroke-linecap="butt"/>
<path d="M161.3 428.55V427.95Q161.3 427.05 162.2 427.05H175.8Q176.7 427.05 176.7 427.95V429.4" fill="none" stroke="#444" stroke-width="1.15"/>
<text class="t s" x="169" y="426.5" font-size="4.5" text-anchor="middle" fill="#1a1a1a" >*</text>
<line x1="192.5" y1="436.4" x2="206.7" y2="436.4" stroke="#111" stroke-width="1.8" stroke-linecap="butt"/>
<line x1="207.9" y1="451.8" x2="222.1" y2="451.8" stroke="#111" stroke-width="1.4" stroke-linecap="butt"/>
<path d="M200 434.95V433.45Q200 432.55 200.9 432.55H214.2Q215.1 432.55 215.1 433.45V434.8" fill="none" stroke="#444" stroke-width="1.15"/>
<text class="t s" x="207.55" y="432" font-size="4.5" text-anchor="middle" fill="#1a1a1a" >***</text>
<line x1="235.4" y1="389.2" x2="235.4" y2="394.2" stroke="#333" stroke-width="0.8" stroke-linecap="butt"/>
<rect x="232.9" y="389.9" width="5" height="3.6" rx="0.7" fill="#3093b0" stroke="#1c1c1c" stroke-width="0.7"/>
<line x1="233.3" y1="391.7" x2="237.5" y2="391.7" stroke="#12323b" stroke-width="0.9" stroke-linecap="butt"/>
<text class="t l" x="241.5" y="393.39" font-size="4.7" text-anchor="start" fill="#222" >Control</text>
<line x1="235.4" y1="396.3" x2="235.4" y2="401.3" stroke="#333" stroke-width="0.8" stroke-linecap="butt"/>
<rect x="232.9" y="397" width="5" height="3.6" rx="0.7" fill="#bd3822" stroke="#1c1c1c" stroke-width="0.7"/>
<line x1="233.3" y1="398.8" x2="237.5" y2="398.8" stroke="#43130c" stroke-width="0.9" stroke-linecap="butt"/>
<text class="t l" x="241.5" y="400.49" font-size="4.7" text-anchor="start" fill="#222" >Elesclomol-Cu</text>
<line x1="300.1" y1="341.9" x2="300.1" y2="457.8" stroke="#1a1a1a" stroke-width="1" stroke-linecap="butt"/>
<line x1="299.8" y1="457.5" x2="495.6" y2="457.5" stroke="#1a1a1a" stroke-width="1" stroke-linecap="butt"/>
<line x1="297.6" y1="448.5" x2="300.1" y2="448.5" stroke="#111" stroke-width="1" stroke-linecap="butt"/>
<text class="t" x="294.5" y="450.37" font-size="5.2" text-anchor="end" fill="#1a1a1a" >0.5</text>
<line x1="297.6" y1="431.7" x2="300.1" y2="431.7" stroke="#111" stroke-width="1" stroke-linecap="butt"/>
<text class="t" x="294.5" y="433.57" font-size="5.2" text-anchor="end" fill="#1a1a1a" >1.0</text>
<line x1="297.6" y1="414.9" x2="300.1" y2="414.9" stroke="#111" stroke-width="1" stroke-linecap="butt"/>
<text class="t" x="294.5" y="416.77" font-size="5.2" text-anchor="end" fill="#1a1a1a" >1.5</text>
<line x1="297.6" y1="398.1" x2="300.1" y2="398.1" stroke="#111" stroke-width="1" stroke-linecap="butt"/>
<text class="t" x="294.5" y="399.97" font-size="5.2" text-anchor="end" fill="#1a1a1a" >2.0</text>
<line x1="297.6" y1="381.3" x2="300.1" y2="381.3" stroke="#111" stroke-width="1" stroke-linecap="butt"/>
<text class="t" x="294.5" y="383.17" font-size="5.2" text-anchor="end" fill="#1a1a1a" >2.5</text>
<line x1="297.6" y1="364.5" x2="300.1" y2="364.5" stroke="#111" stroke-width="1" stroke-linecap="butt"/>
<text class="t" x="294.5" y="366.37" font-size="5.2" text-anchor="end" fill="#1a1a1a" >3.0</text>
<line x1="297.6" y1="347.7" x2="300.1" y2="347.7" stroke="#111" stroke-width="1" stroke-linecap="butt"/>
<text class="t" x="294.5" y="349.57" font-size="5.2" text-anchor="end" fill="#1a1a1a" >3.5</text>
<line x1="322.4" y1="457.5" x2="322.4" y2="460.4" stroke="#111" stroke-width="1.1" stroke-linecap="butt"/>
<text class="t" x="322.4" y="466.1" font-size="5.55" text-anchor="middle" fill="#1a1a1a" >AC005332.6</text>
<line x1="359.9" y1="457.5" x2="359.9" y2="460.4" stroke="#111" stroke-width="1.1" stroke-linecap="butt"/>
<text class="t" x="359.9" y="466.1" font-size="5.55" text-anchor="middle" fill="#1a1a1a" >AC090114.2</text>
<line x1="397.5" y1="457.5" x2="397.5" y2="460.4" stroke="#111" stroke-width="1.1" stroke-linecap="butt"/>
<text class="t" x="397.5" y="466.1" font-size="5.55" text-anchor="middle" fill="#1a1a1a" >AL117382.1</text>
<line x1="435.2" y1="457.5" x2="435.2" y2="460.4" stroke="#111" stroke-width="1.1" stroke-linecap="butt"/>
<text class="t" x="435.2" y="466.1" font-size="5.55" text-anchor="middle" fill="#1a1a1a" >LINC02041</text>
<line x1="472.8" y1="457.5" x2="472.8" y2="460.4" stroke="#111" stroke-width="1.1" stroke-linecap="butt"/>
<text class="t" x="472.8" y="466.1" font-size="5.55" text-anchor="middle" fill="#1a1a1a" >LINC00857</text>
<text class="t" transform="translate(283.4 399.5) rotate(-90)" font-size="6.43" text-anchor="middle" fill="#1a1a1a" >5-CRLs Expression</text>
<line x1="314.9" y1="418.8" x2="314.9" y2="423.4" stroke="#333" stroke-width="0.95" stroke-linecap="butt"/>
<line x1="314.9" y1="435.5" x2="314.9" y2="442.8" stroke="#333" stroke-width="0.95" stroke-linecap="butt"/>
<rect x="308.1" y="423.4" width="13.6" height="12.1" fill="#4bb9d6" stroke="#1a1a1a" stroke-width="1"/>
<line x1="308.1" y1="428.5" x2="321.7" y2="428.5" stroke="#111" stroke-width="1.7" stroke-linecap="butt"/>
<line x1="330" y1="399.3" x2="330" y2="404" stroke="#333" stroke-width="0.95" stroke-linecap="butt"/>
<rect x="323.2" y="392.4" width="13.6" height="6.9" fill="#e64b33" stroke="#1a1a1a" stroke-width="1"/>
<line x1="323.2" y1="393.7" x2="336.8" y2="393.7" stroke="#111" stroke-width="2.2" stroke-linecap="butt"/>
<path d="M314.6 389.35V388.25Q314.6 387.35 315.5 387.35H329.2Q330.1 387.35 330.1 388.25V392.4" fill="none" stroke="#444" stroke-width="1.15"/>
<text class="t s" x="322.35" y="387.1" font-size="4.5" text-anchor="middle" fill="#1a1a1a" >*</text>
<line x1="352.5" y1="424.6" x2="352.5" y2="427.5" stroke="#333" stroke-width="0.95" stroke-linecap="butt"/>
<line x1="352.5" y1="434.6" x2="352.5" y2="437.4" stroke="#333" stroke-width="0.95" stroke-linecap="butt"/>
<rect x="345.5" y="427.5" width="14" height="7.1" fill="#4bb9d6" stroke="#1a1a1a" stroke-width="1"/>
<line x1="345.5" y1="431.2" x2="359.5" y2="431.2" stroke="#111" stroke-width="1.7" stroke-linecap="butt"/>
<line x1="367.4" y1="346.5" x2="367.4" y2="358.1" stroke="#333" stroke-width="0.95" stroke-linecap="butt"/>
<line x1="367.4" y1="383.2" x2="367.4" y2="398.9" stroke="#333" stroke-width="0.95" stroke-linecap="butt"/>
<rect x="360.6" y="358.1" width="13.6" height="25.1" fill="#e64b33" stroke="#1a1a1a" stroke-width="1"/>
<line x1="360.6" y1="367" x2="374.2" y2="367" stroke="#111" stroke-width="1.7" stroke-linecap="butt"/>
<path d="M352.5 349.05V347.75Q352.5 346.85 353.4 346.85H366.5Q367.4 346.85 367.4 347.75V346.7" fill="none" stroke="#444" stroke-width="1.15"/>
<text class="t s" x="359.95" y="346.1" font-size="4.5" text-anchor="middle" fill="#1a1a1a" >*</text>
<line x1="383.2" y1="431.6" x2="396.8" y2="431.6" stroke="#111" stroke-width="2.2" stroke-linecap="butt"/>
<line x1="405.1" y1="385" x2="405.1" y2="396.5" stroke="#333" stroke-width="0.95" stroke-linecap="butt"/>
<rect x="398.3" y="396.5" width="13.6" height="9.9" fill="#e64b33" stroke="#1a1a1a" stroke-width="1"/>
<line x1="398.3" y1="405.8" x2="411.9" y2="405.8" stroke="#111" stroke-width="1.2" stroke-linecap="butt"/>
<path d="M389.9 387.75V386.25Q389.9 385.35 390.8 385.35H404.2Q405.1 385.35 405.1 386.25V385.2" fill="none" stroke="#444" stroke-width="1.15"/>
<text class="t s" x="397.5" y="384.5" font-size="4.5" text-anchor="middle" fill="#1a1a1a" >**</text>
<rect x="420.7" y="430.4" width="13.6" height="3" fill="#4bb9d6" stroke="#1a1a1a" stroke-width="1"/>
<line x1="420.7" y1="432.8" x2="434.3" y2="432.8" stroke="#111" stroke-width="1" stroke-linecap="butt"/>
<line x1="435.8" y1="451.5" x2="449.4" y2="451.5" stroke="#111" stroke-width="1.8" stroke-linecap="butt"/>
<path d="M427.7 427.65V425.85Q427.7 424.95 428.6 424.95H441.9Q442.8 424.95 442.8 425.85V427.5" fill="none" stroke="#444" stroke-width="1.15"/>
<text class="t s" x="435.25" y="424.6" font-size="4.5" text-anchor="middle" fill="#1a1a1a" >***</text>
<line x1="458.4" y1="431.6" x2="472" y2="431.6" stroke="#111" stroke-width="2.4" stroke-linecap="butt"/>
<line x1="480.15" y1="448.6" x2="480.15" y2="449.4" stroke="#333" stroke-width="0.95" stroke-linecap="butt"/>
<rect x="473.2" y="446.3" width="13.9" height="2.3" fill="#e64b33" stroke="#1a1a1a" stroke-width="1"/>
<line x1="473.2" y1="447.8" x2="487.1" y2="447.8" stroke="#111" stroke-width="0.9" stroke-linecap="butt"/>
<path d="M465.3 428.85V427.35Q465.3 426.45 466.2 426.45H479.6Q480.5 426.45 480.5 427.35V428.7" fill="none" stroke="#444" stroke-width="1.15"/>
<text class="t s" x="472.9" y="425.9" font-size="4.5" text-anchor="middle" fill="#1a1a1a" >***</text>
<line x1="500.5" y1="389.2" x2="500.5" y2="394.2" stroke="#333" stroke-width="0.8" stroke-linecap="butt"/>
<rect x="498" y="389.9" width="5" height="3.6" rx="0.7" fill="#3093b0" stroke="#1c1c1c" stroke-width="0.7"/>
<line x1="498.4" y1="391.7" x2="502.6" y2="391.7" stroke="#12323b" stroke-width="0.9" stroke-linecap="butt"/>
<text class="t l" x="506.5" y="393.39" font-size="4.7" text-anchor="start" fill="#222" >Control</text>
<line x1="500.5" y1="396.2" x2="500.5" y2="401.2" stroke="#333" stroke-width="0.8" stroke-linecap="butt"/>
<rect x="498" y="396.9" width="5" height="3.6" rx="0.7" fill="#bd3822" stroke="#1c1c1c" stroke-width="0.7"/>
<line x1="498.4" y1="398.7" x2="502.6" y2="398.7" stroke="#43130c" stroke-width="0.9" stroke-linecap="butt"/>
<text class="t l" x="506.5" y="400.39" font-size="4.7" text-anchor="start" fill="#222" >Elesclomol-Cu</text>
</svg>
</body>
</html>
